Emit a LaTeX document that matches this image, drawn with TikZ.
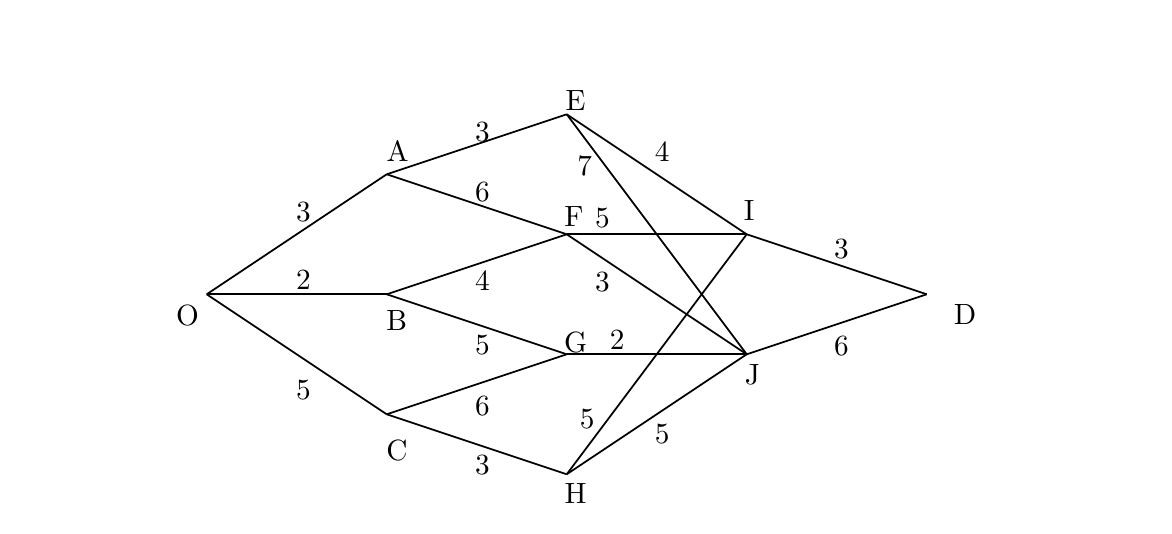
\documentclass[tikz,border=0pt]{standalone}
\begin{document}
\begin{tikzpicture}[x=2.16cm, y=1.44cm, line width=0.6pt]
    \useasboundingbox (-1.1483, -1.9975) rectangle (5.3628, 2.4525);

    \coordinate (O) at (0, 0);
    \coordinate (A) at (1, 1);
    \coordinate (B) at (1, 0);
    \coordinate (C) at (1, -1);
    \coordinate (E) at (2, 1.5);
    \coordinate (F) at (2, 0.5);
    \coordinate (G) at (2, -0.5);
    \coordinate (H) at (2, -1.5);
    \coordinate (I) at (3, 0.5);
    \coordinate (J) at (3, -0.5);
    \coordinate (D) at (4, 0);

    \draw (O) -- (A);
    \draw (O) -- (B);
    \draw (O) -- (C);
    \draw (A) -- (E);
    \draw (A) -- (F);
    \draw (B) -- (F);
    \draw (B) -- (G);
    \draw (C) -- (G);
    \draw (C) -- (H);
    \draw (E) -- (I);
    \draw (E) -- (J);
    \draw (F) -- (I);
    \draw (F) -- (J);
    \draw (G) -- (J);
    \draw (H) -- (I);
    \draw (H) -- (J);
    \draw (I) -- (D);
    \draw (J) -- (D);

    \node (lO) at (-0.107, -0.173) {O};
    \node (lA) at (1.06, 1.197) {A};
    \node (lB) at (1.056, -0.22) {B};
    \node (lC) at (1.057, -1.30) {C};
    \node (lE) at (2.05, 1.617) {E};
    \node (lF) at (2.04, 0.647) {F};
    \node (lG) at (2.05, -0.40) {G};
    \node (lH) at (2.05, -1.662) {H};
    \node (lI) at (3.014, 0.697) {I};
    \node (lJ) at (3.031, -0.67) {J};
    \node (lD) at (4.213, -0.17) {D};

    \node (wOA) at (0.537, 0.688) {3};
    \node (wOB) at (0.537, 0.119) {2};
    \node (wOC) at (0.537, -0.798) {5};
    \node (wAE) at (1.532, 1.355) {3};
    \node (wAF) at (1.532, 0.855) {6};
    \node (wBF) at (1.532, 0.113) {4};
    \node (wBG) at (1.532, -0.4225) {5};
    \node (wCG) at (1.532, -0.928) {6};
    \node (wCH) at (1.532, -1.4225) {3};
    \node (wEJ) at (2.1, 1.072) {7};
    \node (wEI) at (2.531, 1.188) {4};
    \node (wFI) at (2.198, 0.633) {5};
    \node (wFJ) at (2.198, 0.1) {3};
    \node (wGJ) at (2.281, -0.381) {2};
    \node (wHI) at (2.114, -1.039) {5};
    \node (wHJ) at (2.531, -1.164) {5};
    \node (wID) at (3.526, 0.3775) {3};
    \node (wJD) at (3.526, -0.428) {6};
\end{tikzpicture}
\end{document}
